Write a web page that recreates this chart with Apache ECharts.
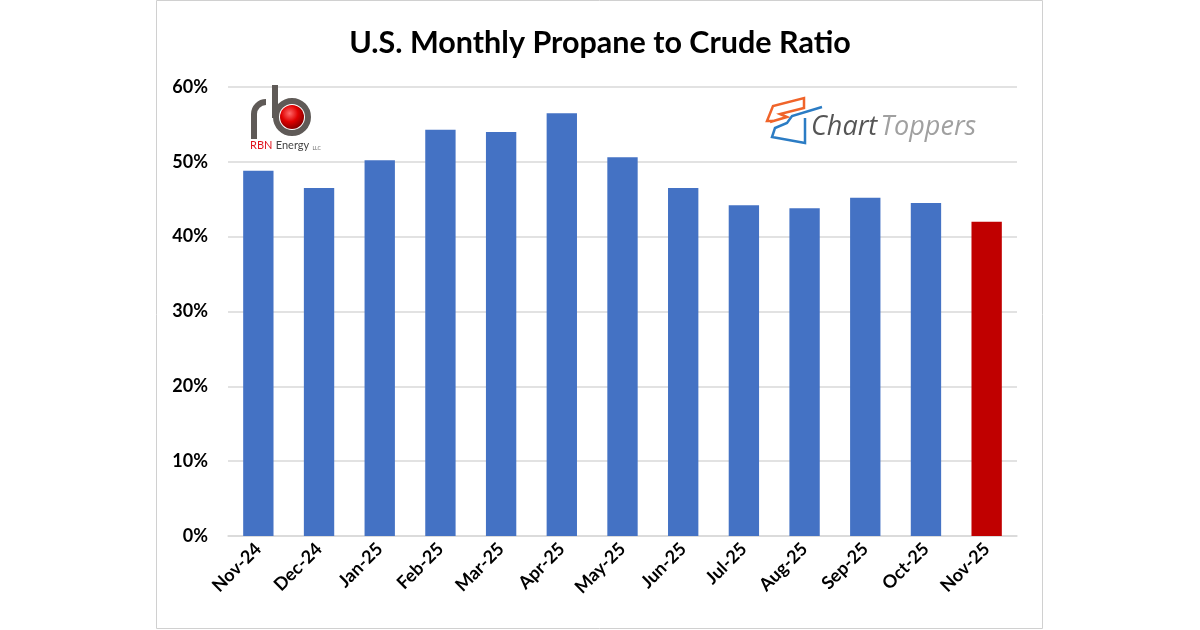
<!DOCTYPE html>
<html>
<head>
<meta charset="utf-8">
<script src="https://cdn.jsdelivr.net/npm/echarts@6/dist/echarts.min.js"></script>
<style>
  html, body { margin: 0; padding: 0; background: #fff; }
  #chart { width: 1200px; height: 630px; }
</style>
</head>
<body>
<div id="chart"></div>
<script>
const months = ['Nov-24', 'Dec-24', 'Jan-25', 'Feb-25', 'Mar-25', 'Apr-25', 'May-25',
  'Jun-25', 'Jul-25', 'Aug-25', 'Sep-25', 'Oct-25', 'Nov-25']
const ratio = [0.488, 0.465, 0.502, 0.543, 0.540, 0.565, 0.506,
  0.465, 0.442, 0.438, 0.452, 0.445, 0.420]
const highlightIndex = 12

const chart = echarts.init(document.getElementById('chart'))
const font = 'Lato, "Open Sans", sans-serif'
const pipe = { fill: 'none', stroke: '#5f5a57', lineWidth: 6 }

// frame + logos, just decoration
const logos = [
  { type: 'rect', shape: { x: 156.5, y: 0.5, width: 886, height: 628 },
    style: { fill: 'none', stroke: '#D0D0D0', lineWidth: 1 }, z: 0 },
  // RBN logo
  { type: 'circle', shape: { cx: 292, cy: 117, r: 12 },
    style: { fill: new echarts.graphic.RadialGradient(0.4, 0.35, 0.7, [
      { offset: 0, color: '#ff6a6a' }, { offset: 0.5, color: '#e00000' }, { offset: 1, color: '#7a0000' }]) }, z: 10 },
  { type: 'circle', shape: { cx: 292, cy: 117, r: 16 }, style: pipe, z: 11 },
  { type: 'line', shape: { x1: 275, y1: 85, x2: 275, y2: 118 }, style: pipe, z: 11 },
  { type: 'line', shape: { x1: 254, y1: 139, x2: 254, y2: 114 }, style: pipe, z: 11 },
  { type: 'arc', shape: { cx: 266, cy: 114, r: 12, startAngle: Math.PI, endAngle: Math.PI * 1.5, clockwise: true },
    style: pipe, z: 11 },
  { type: 'text', x: 250, y: 139, z: 11,
    style: { text: '{r|RBN} {g|Energy} {s|LLC}', rich: {
      r: { fill: '#e0141e', fontSize: 11, fontFamily: font },
      g: { fill: '#444', fontSize: 11, fontFamily: font },
      s: { fill: '#666', fontSize: 5, fontFamily: font, verticalAlign: 'bottom' } } } },
  // Chart Toppers logo
  { type: 'polyline', shape: { points: [[773, 121], [767, 121], [773, 106], [804, 98], [804, 108], [780, 114], [787, 117], [770, 122]] },
    style: { fill: 'none', stroke: '#f0642a', lineWidth: 2.5 }, z: 10 },
  { type: 'polyline', shape: { points: [[822, 107], [792, 116], [787, 123], [775, 128], [772, 137], [805, 143], [805, 118]] },
    style: { fill: 'none', stroke: '#2b7cc4', lineWidth: 2.5 }, z: 10 },
  { type: 'text', x: 811, y: 127, z: 10,
    style: { text: '{a|Chart} {b|Toppers}', verticalAlign: 'middle', rich: {
      a: { fill: '#555', fontSize: 27, fontFamily: '"Open Sans", sans-serif', fontStyle: 'italic' },
      b: { fill: '#a0a0a0', fontSize: 27, fontFamily: '"Open Sans", sans-serif', fontStyle: 'italic' } } } }
]

const option = {
  backgroundColor: '#fff',
  animation: false,
  title: {
    text: 'U.S. Monthly Propane to Crude Ratio',
    left: 'center',
    top: 23,
    textStyle: { fontFamily: font, fontWeight: 'bold', fontSize: 30.5, color: '#000' },
  },
  grid: { left: 228, right: 183, top: 87, bottom: 94 },
  xAxis: {
    type: 'category',
    data: months,
    axisLine: { lineStyle: { color: '#D9D9D9', width: 1.5 } },
    axisTick: { show: false },
    axisLabel: {
      interval: 0,
      rotate: 45,
      margin: 10,
      color: '#000',
      fontFamily: font,
      fontWeight: 'bold',
      fontSize: 18,
    },
  },
  yAxis: {
    type: 'value',
    min: 0,
    max: 0.6,
    interval: 0.1,
    axisLine: { show: false },
    axisTick: { show: false },
    splitLine: { lineStyle: { color: '#D9D9D9', width: 1.5 } },
    axisLabel: {
      margin: 20,
      color: '#000',
      fontFamily: font,
      fontWeight: 'bold',
      fontSize: 18,
      formatter: v => `${Math.round(v * 100)}%`,
    },
  },
  series: [{
    type: 'bar',
    barCategoryGap: '50%',
    data: ratio.map((v, i) => ({
      value: v,
      itemStyle: { color: i === highlightIndex ? '#C00000' : '#4472C4' },
    })),
  }],
  graphic: logos,
}
chart.setOption(option)
</script>
</body>
</html>
